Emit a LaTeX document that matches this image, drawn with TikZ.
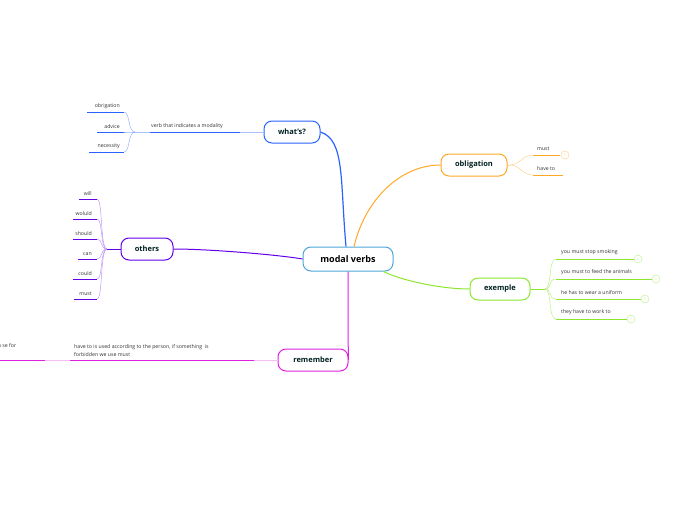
\documentclass[tikz,border=0pt]{standalone}
\usepackage{fontspec}
\setmainfont{Open Sans}
\begin{document}
\begin{tikzpicture}[x=1pt,y=-1pt,
 topic/.style={draw,rounded corners=8pt,line width=1pt,minimum height=22pt,font=\bfseries\fontsize{7.5}{9}\selectfont,text=black!75!teal,inner sep=0pt},
 leaf/.style={font=\fontsize{5.2}{6}\selectfont,text=black!80,inner sep=0pt,anchor=south west},
 ul/.style={line width=1pt},
 br/.style={line width=0.5pt},
 cnt/.style={draw,circle,line width=0.4pt,minimum size=8pt,inner sep=0pt,font=\fontsize{4}{4}\selectfont}]
\useasboundingbox (0,0) rectangle (697,520);
\definecolor{colb}{HTML}{2962FF}\definecolor{colo}{HTML}{FFA726}\definecolor{colp}{HTML}{6200EA}
\definecolor{colg}{HTML}{8BE62E}\definecolor{colm}{HTML}{E020E0}\definecolor{colc}{HTML}{4DA6D9}
\node[topic,draw=colc,minimum width=90pt,minimum height=24pt,font=\bfseries\fontsize{9}{11}\selectfont,text=black] (c) at (348,259) {modal verbs};
\node[topic,draw=colb,minimum width=56pt] (w) at (292,132) {what's?};
\node[topic,draw=colo,minimum width=66pt] (o) at (474,165) {obligation};
\node[topic,draw=colp,minimum width=52pt] (ot) at (147,249) {others};
\node[topic,draw=colg,minimum width=60pt] (e) at (500,289) {exemple};
\node[topic,draw=colm,minimum width=70pt] (r) at (313,360) {remember};
% main branches
\draw[colb,line width=1.2pt] (c.north) ++(-2,0) .. controls (340,180) and (345,140) .. (w.east);
\draw[colo,line width=1pt] (c.north) ++(6,0) .. controls (365,200) and (400,165) .. (o.west);
\draw[colp,line width=1pt] (c.west) .. controls (280,255) and (210,249) .. (ot.east);
\draw[colg,line width=1pt] (c.south east) ++(-10,0) .. controls (400,280) and (440,289) .. (e.west);
\draw[colm,line width=1pt] (c.south) .. controls (348,300) and (348,345) .. (r.east);
% what's
\coordinate (w1) at (240,132); \coordinate (wf) at (135,132);
\draw[colb!40,ul] (w.west) -- (w1);
\draw[colb,ul] (w1) -- (150,132);
\draw[colb!40,ul] (150,132) -- (wf);
\node[leaf] (wt) at (151,129) {verb that indicates a modality};
\foreach \y/\a/\t in {112/87/obrigation,132/97/advice,152/89/necessity}{
 \draw[colb!50,br] (wf) .. controls (128,132) and (130,\y) .. (124,\y);
 \draw[colb,ul] (124,\y) -- (\a,\y);
 \node[leaf,anchor=south east] at (120,\y-3) {\t};}
% others
\coordinate (of) at (107,249);
\draw[colp,ul] (ot.west) -- (of);
\foreach \y/\a/\t in {199/79/will,219/73/woluld,239/73/should,259/78/can,279/73/could,299/74/must}{
 \draw[colp!40,br] (of) .. controls (100,249) and (103,\y) .. (97,\y);
 \draw[colp,ul] (97,\y) -- (\a,\y);
 \node[leaf,anchor=south east] at (92,\y-3) {\t};}
% obligation
\coordinate (obf) at (510,165);
\draw[colo!50,br] (o.east) -- (obf);
\draw[colo!50,br] (obf) .. controls (520,165) and (522,155) .. (533,155);
\draw[colo!50,br] (obf) .. controls (520,165) and (522,175) .. (533,175);
\draw[colo,ul] (533,155) -- (560,155);
\draw[colo,ul] (533,175) -- (563,175);
\node[leaf] at (537,151) {must};
\node[leaf] at (537,171) {have to};
\node[cnt,draw=colo!60,text=colo!60] (k1) at (565,155) {1};
% exemple
\coordinate (ef) at (545,289);
\draw[colg,br] (e.east) -- (ef);
\foreach \y/\b/\t in {259/638/you must stop smoking,279/656/you must to feed the animals,299/645/he has to wear a uniform,319/631/they have to work to}{
 \draw[colg!60,br] (ef) .. controls (552,289) and (548,\y) .. (556,\y);
 \draw[colg,ul] (556,\y) -- (\b-4,\y);
 \node[leaf] at (561,\y-4) {\t};
 \node[cnt,draw=colg!60,text=colg!60] at (\b,\y) {1};}
% remember
\draw[colm!30,ul] (r.west) -- (254,360);
\draw[colm,ul] (254,360) -- (70,360);
\draw[colm!30,ul] (70,360) -- (45,360);
\draw[colm,ul] (45,360) -- (0,360);
\node[leaf,align=left,anchor=south west,font=\fontsize{5.2}{8.5}\selectfont] at (74,357) {have to is used according to the person, if something\ \ is\\forbidden we use must};
\node[leaf] at (-2,348) {a se for};
\end{tikzpicture}
\end{document}
